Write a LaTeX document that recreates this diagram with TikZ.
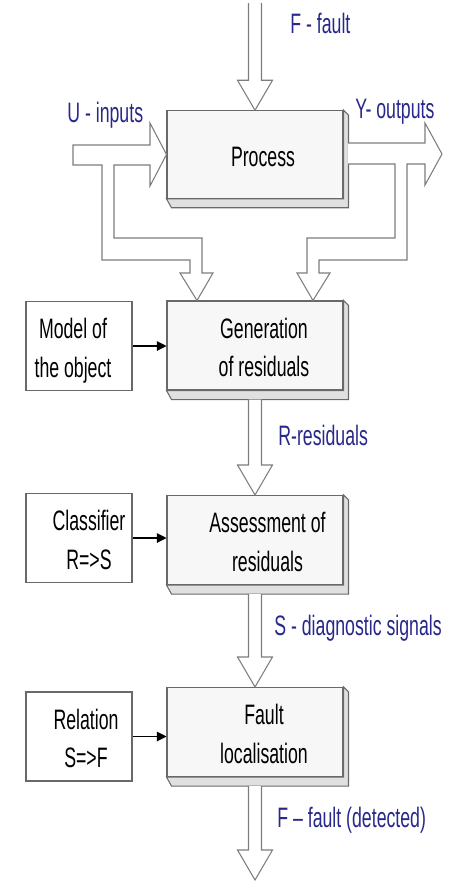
\documentclass[tikz,border=0pt]{standalone}
\usepackage{fontspec}
\setmainfont{Liberation Sans}[FakeStretch=0.63]
\usetikzlibrary{arrows.meta,calc}

\definecolor{labblue}{RGB}{40,40,140}
\definecolor{boxgray}{RGB}{105,105,105}
\definecolor{arrgray}{RGB}{125,125,125}

\tikzset{
  mainbox/.style={draw=boxgray,fill=black!3,line width=0.6pt,
    minimum width=3.52cm,minimum height=1.75cm},
  sidebox/.style={draw=boxgray,fill=white,line width=0.6pt,
    minimum width=2.12cm,minimum height=1.72cm},
  bevel/.style={draw=boxgray,fill=black!12,line width=0.6pt},
  fat/.style={draw=arrgray,fill=white,line width=0.6pt},
  lab/.style={text=labblue,anchor=west,inner sep=0pt},
  feed/.style={-{Triangle[length=5.5pt,width=5.5pt]},black,line width=0.6pt},
}

% centred lines, moved sideways by half of #1
\newcommand\boxtxt[2]{\hspace{#1}%
  \raisebox{-2.5pt}[\height][\depth]{\begin{tabular}{@{}c@{}}#2\end{tabular}}}
% bevel below and right of a main box
\newcommand\boxbevel[1]{%
  \draw[bevel] (#1.south west) -- ($(#1.south west)+(5,9)$)
    -- ($(#1.south east)+(5,9)$) -- ($(#1.north east)+(5,5)$)
    -- (#1.north east) -- (#1.south east) -- cycle;}
% hollow arrow pointing down, from #1 to the tip #2
\newcommand\fatdown[2]{%
  \draw[fat] ($(#1)+(-6.5,0)$) -- ($(#2)+(-6.5,-30)$) -- ($(#2)+(-17.5,-30)$)
    -- (#2) -- ($(#2)+(17.5,-30)$) -- ($(#2)+(6.5,-30)$) -- ($(#1)+(6.5,0)$);}

\begin{document}
\begin{tikzpicture}[x=0.02cm,y=-0.02cm,font=\fontsize{16}{22}\selectfont]
    \useasboundingbox (0,0) rectangle (474,887);

    % main chain
    \node[mainbox] (proc)   at (255,154.5) {\boxtxt{0.32cm}{Process}};
    \node[mainbox] (gen)    at (255,345.5) {\boxtxt{0.36cm}{Generation\\of residuals}};
    \node[mainbox] (assess) at (255,540)   {\boxtxt{0.5cm}{Assessment of\\residuals}};
    \node[mainbox] (loc)    at (255,732)   {\boxtxt{0.36cm}{Fault\\localisation}};
    \foreach \b in {proc,gen,assess,loc}{\boxbevel{\b}}

    % side boxes
    \node[sidebox] (model)   at (79,346)   {\boxtxt{-0.24cm}{Model of\\the object}};
    \node[sidebox] (classif) at (79,538)   {\boxtxt{0.4cm}{Classifier\\R=>S}};
    \node[sidebox] (rel)     at (79,736.5) {\boxtxt{0.28cm}{Relation\\S=>F}};

    \draw[feed] (model.east)   -- (model.east -| gen.west);
    \draw[feed] (classif.east) -- (classif.east -| assess.west);
    \draw[feed] (rel.east)     -- (rel.east -| loc.west);

    % fault in, residuals, signals, fault out
    \coordinate (ftop) at (255,3);
    \coordinate (genbase) at ($(gen.south)+(0,9)$);
    \coordinate (assbase) at ($(assess.south)+(0,9)$);
    \coordinate (locbase) at ($(loc.south)+(0,9)$);
    \coordinate (fout) at (255,880);
    \fatdown{ftop}{proc.north}
    \fatdown{genbase}{assess.north}
    \fatdown{assbase}{loc.north}
    \fatdown{locbase}{fout}

    % inputs, with branch to the residual generator
    \draw[fat] (73,145) -- (150,145) -- (150,123) -- (proc.west) -- (150,186)
        -- (150,165) -- (114,165) -- (114,238) -- (202,238) -- (202,273)
        -- (213,273) -- ($(gen.north)+(-58,0)$) -- (180,273) -- (190,273)
        -- (190,260) -- (102,260) -- (102,165) -- (73,165) -- cycle;

    % outputs, with branch to the residual generator
    \coordinate (yout) at (442,154);
    \draw[fat] (348,143) -- (425,143) -- (425,123) -- (yout) -- (425,185)
        -- (425,164) -- (407,164) -- (407,260) -- (319,260) -- (319,273)
        -- (330,273) -- ($(gen.north)+(58,0)$) -- (297,273) -- (307,273)
        -- (307,238) -- (395,238) -- (395,164) -- (348,164);

    % signal names
    \node[lab] (flab)  at (290,23)  {F - fault};
    \node[lab] (ulab)  at (67,115)  {U - inputs};
    \node[lab] (ylab)  at (355,112) {Y- outputs};
    \node[lab] (rlab)  at (278,435) {R-residuals};
    \node[lab] (slab)  at (274,628) {S - diagnostic signals};
    \node[lab] (folab) at (277,820) {F – fault (detected)};
\end{tikzpicture}
\end{document}
